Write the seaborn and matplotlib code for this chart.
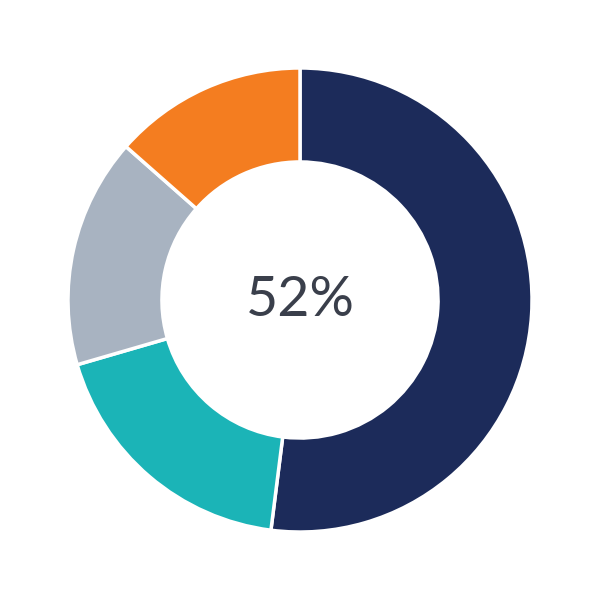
import matplotlib
matplotlib.use('Agg')
import matplotlib.pyplot as plt
import seaborn as sns

sns.set_theme(style='white')
plt.rcParams['font.family'] = ['Lato', 'DejaVu Sans']

labels = ['Navy', 'Teal', 'Gray', 'Orange']
values = [52, 18.5, 16, 13.5]
colors = ['#1c2b5a', '#1bb4b7', '#a8b3c1', '#f47d20']
center_text = '52%'

fig = plt.figure(figsize=(6, 6), dpi=100)
ax = fig.add_axes([0, 0, 1, 1])
ax.pie(values, colors=colors, startangle=90, counterclock=False,
       radius=1, wedgeprops=dict(width=0.405, edgecolor='white', linewidth=2.5))
ax.text(0, 0, center_text, ha='center', va='center', fontsize=40,
        color='#3a3f4b', fontweight='normal')
ax.set_xlim(-1.293, 1.293)
ax.set_ylim(-1.293, 1.293)
ax.set_aspect('equal')
ax.axis('off')

plt.savefig('out.png', dpi=100)
